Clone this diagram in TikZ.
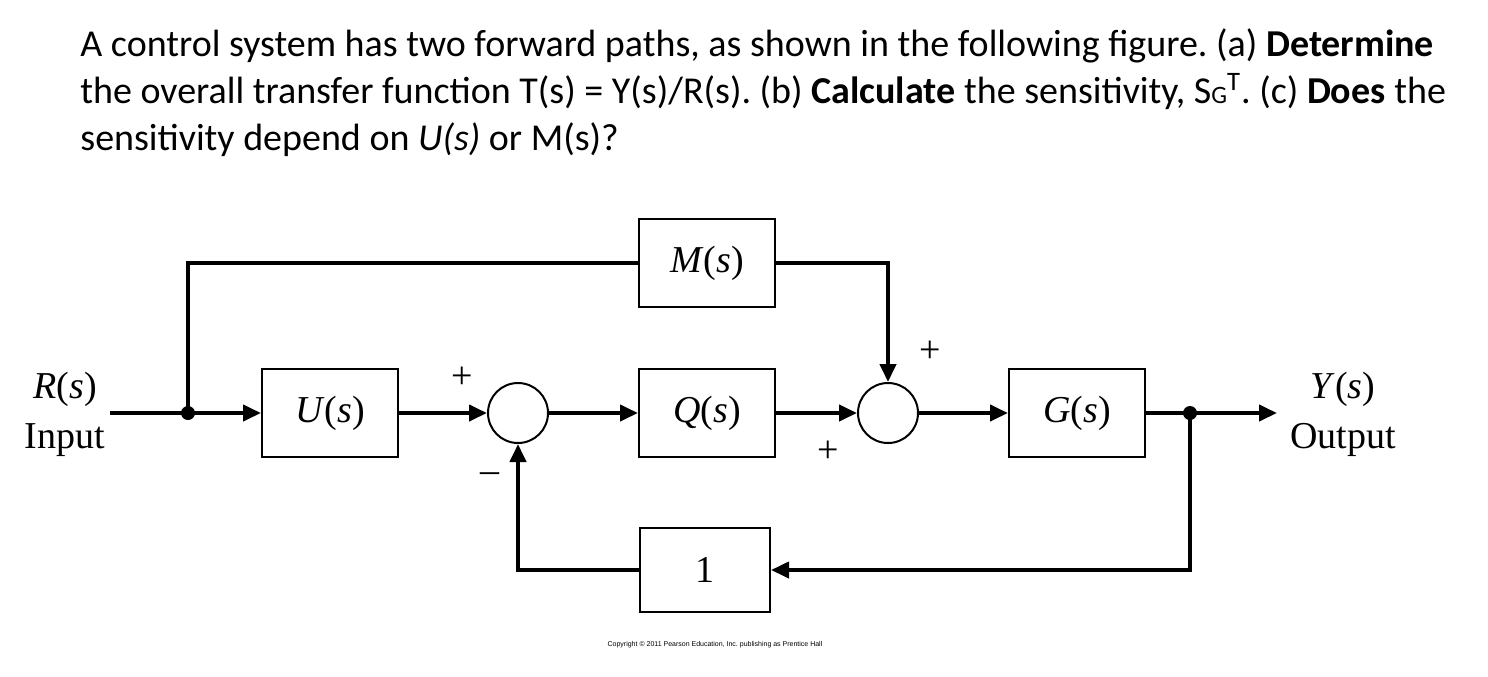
\documentclass[tikz,border=0pt]{standalone}
\usepackage{fontspec}
\setmainfont{Liberation Serif}
\newfontfamily\calfnt{Carlito}
\newfontfamily\arl{Liberation Sans}
\usetikzlibrary{arrows.meta}
\frenchspacing
\begin{document}
\begin{tikzpicture}[x=0.5pt,y=-0.5pt,
  blk/.style={draw,line width=1pt,minimum width=68pt,minimum height=44pt,font=\fontsize{19}{19}\selectfont},
  sumc/.style={draw,circle,line width=1pt,minimum size=30pt,inner sep=0pt},
  sig/.style={line width=2pt,-{Triangle[length=9pt,width=8pt]}},
  wire/.style={line width=2pt},
  lbl/.style={font=\fontsize{19}{19}\selectfont},
  hd/.style={anchor=base west,inner sep=0pt,font=\calfnt\fontsize{19}{20}\selectfont}]
\useasboundingbox (0,0) rectangle (1488,676);
\node[hd] (h1) at (80,56) {A control system has two forward paths, as shown in the following figure. (a) \textbf{Determine}};
\node[hd] (h2) at (80,103) {the overall transfer function T(s) = Y(s)/R(s). (b) \textbf{Calculate} the sensitivity, S{\fontsize{12.5}{12}\selectfont G}\textsuperscript{T}. (c) \textbf{Does} the};
\node[hd] (h3) at (80,150) {sensitivity depend on \textit{U(s)} or M(s)?};
\node[blk] (U) at (330,413) {\textit{U}(\textit{s})};
\node[blk] (Q) at (707,413) {\textit{Q}(\textit{s})};
\node[blk] (M) at (707,263) {\textit{M}(\textit{s})};
\node[blk] (G) at (1077,413) {\textit{G}(\textit{s})};
\node[blk,minimum width=65pt,minimum height=42pt] (one) at (705,570) {1};
\node[sumc] (s1) at (518,413) {};
\node[sumc] (s2) at (888,413) {};
\node[lbl,align=center] (R) at (65,414) {\textit{R}(\textit{s})\\[6pt]Input};
\node[lbl,align=center] (Y) at (1343,414) {\textit{Y}(\textit{s})\\[6pt]Output};
\coordinate (in) at (110,413);
\coordinate (j1) at (188,413);
\coordinate (j2) at (1190,413);
\coordinate (out) at (1277,413);
\fill (j1) circle (3.5pt);
\fill (j2) circle (3.5pt);
\draw[wire] (in) -- (j1);
\draw[sig] (j1) -- (U.west);
\draw[sig] (U.east) -- (s1.west);
\draw[sig] (s1.east) -- (Q.west);
\draw[sig] (Q.east) -- (s2.west);
\draw[sig] (s2.east) -- (G.west);
\draw[wire] (G.east) -- (j2);
\draw[sig] (j2) -- (out);
\draw[wire] (j1) |- (M.west);
\draw[sig] (M.east) -| (s2.north);
\draw[sig] (j2) |- (one.east);
\draw[sig] (one.west) -| (s1.south);
\node[lbl] (p1) at (462,378) {+};
\node[lbl] (m1) at (490,478) {\textendash};
\node[lbl] (p2) at (828,452) {+};
\node[lbl] (p3) at (930,352) {+};
\node[font=\arl\fontsize{3.5}{4}\selectfont] (c) at (715,645) {Copyright \textcopyright\ 2011 Pearson Education, Inc. publishing as Prentice Hall};
\end{tikzpicture}
\end{document}
